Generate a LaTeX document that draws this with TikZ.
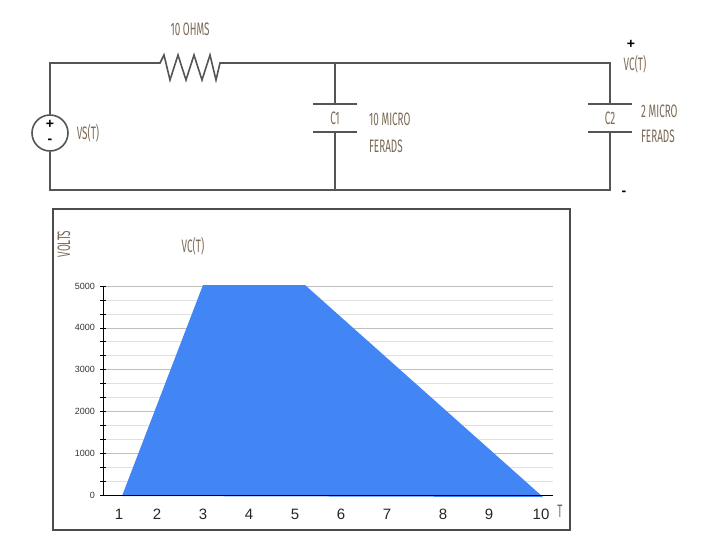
\documentclass[tikz,border=0pt]{standalone}
\usepackage{fontspec}
\setmainfont{Liberation Sans}
\newfontfamily\hand{Fira Sans}
\usetikzlibrary{calc}
\definecolor{wire}{HTML}{555555}
\definecolor{lab}{HTML}{7A6A55}
\definecolor{blue1}{HTML}{4285F4}
\tikzset{
 w/.style={draw=wire,line width=1.6pt},
 lbl/.style={font=\hand\fontsize{18}{18}\selectfont, text=lab, xscale=0.55, inner sep=0pt},
 ylab/.style={font=\fontsize{9}{10}\selectfont, text=black!80, anchor=east, inner sep=0pt},
 xlab/.style={font=\fontsize{15}{16}\selectfont, text=black!85, inner sep=0pt},
 grid1/.style={draw=black!12,line width=0.6pt}
}
\begin{document}
\begin{tikzpicture}[x=1pt,y=-1pt]
\useasboundingbox (0,0) rectangle (728,544);
% circuit
\coordinate (tl) at (50,63); \coordinate (bl) at (50,190);
\coordinate (tm) at (335,63); \coordinate (bm) at (335,190);
\coordinate (tr) at (610,63); \coordinate (br) at (610,190);
\node[circle,draw=wire,line width=1.6pt,minimum size=36pt,inner sep=0pt] (vs) at (50,133) {};
\node[font=\bfseries\fontsize{14}{14}\selectfont] (vp) at (50,124) {+};
\node[font=\bfseries\fontsize{14}{14}\selectfont] (vm) at (50,141) {-};
\draw[w] (vs.north) -- (tl) -- (160,63) -- (164,55) -- (170,80) -- (178,55) -- (186,80) -- (194,55) -- (202,80) -- (210,55) -- (216,80) -- (220,63) -- (tr) -- (610,104);
\draw[w] (vs.south) -- (bl) -- (br) -- (610,132);
\draw[w] (tm) -- (335,104); \draw[w] (bm) -- (335,132);
\draw[w] (313,104) -- (357,104); \draw[w] (313,132) -- (357,132);
\draw[w] (588,104) -- (632,104); \draw[w] (588,132) -- (632,132);
\node[lbl] (r) at (190,29) {10 OHMS};
\node[lbl] (vsl) at (88,133) {VS(T)};
\node[lbl] (c1) at (335,118) {C1};
\node[lbl] (c2) at (610,118) {C2};
\node[lbl,anchor=west] (c1a) at (369,119) {10 MICRO};
\node[lbl,anchor=west] (c1b) at (369,146) {FERADS};
\node[lbl,anchor=west] (c2a) at (641,111) {2 MICRO};
\node[lbl,anchor=west] (c2b) at (641,136) {FERADS};
\node[font=\bfseries\fontsize{14}{14}\selectfont] (pp) at (631,44) {+};
\node[lbl] (vcl) at (635,64) {VC(T)};
\node[font=\bfseries\fontsize{14}{14}\selectfont] (mm) at (624,193) {-};
% chart
\draw[draw=black!70,line width=1.2pt] (53,209) rectangle (570,530);
\foreach \i in {0,...,15} {\draw[grid1] (103,{495-\i*13.933}) -- (553,{495-\i*13.933});}
\foreach \i in {1,...,5} {\draw[draw=black!25,line width=0.6pt] (103,{495-\i*41.8}) -- (553,{495-\i*41.8});}
\fill[blue1] (122,496) -- (203,285) -- (305,285) -- (543,497) -- cycle;
\draw[black,line width=0.8pt] (103,286) -- (103,495) -- (553,495);
\foreach \i in {0,...,15} {\draw[black,line width=0.6pt] (100,{495-\i*13.933}) -- (106,{495-\i*13.933});}
\foreach \v [count=\i from 0] in {0,1000,2000,3000,4000,5000} {\node[ylab] (y\i) at (95,{495-\i*41.8}) {\v};}
\foreach \v/\x in {1/119,2/157,3/203,4/249,5/295,6/341,7/387,8/443,9/489,10/541} {\node[xlab] (x\v) at (\x,514) {\v};}
\node[lbl] (tl2) at (560,511) {T};
\node[font=\hand\fontsize{18}{18}\selectfont, text=lab, inner sep=0pt, rotate=90] (volts) at (64,244) {\scalebox{0.55}[1]{VOLTS}};
\node[lbl] (vct) at (193,246) {VC(T)};
\end{tikzpicture}
\end{document}
